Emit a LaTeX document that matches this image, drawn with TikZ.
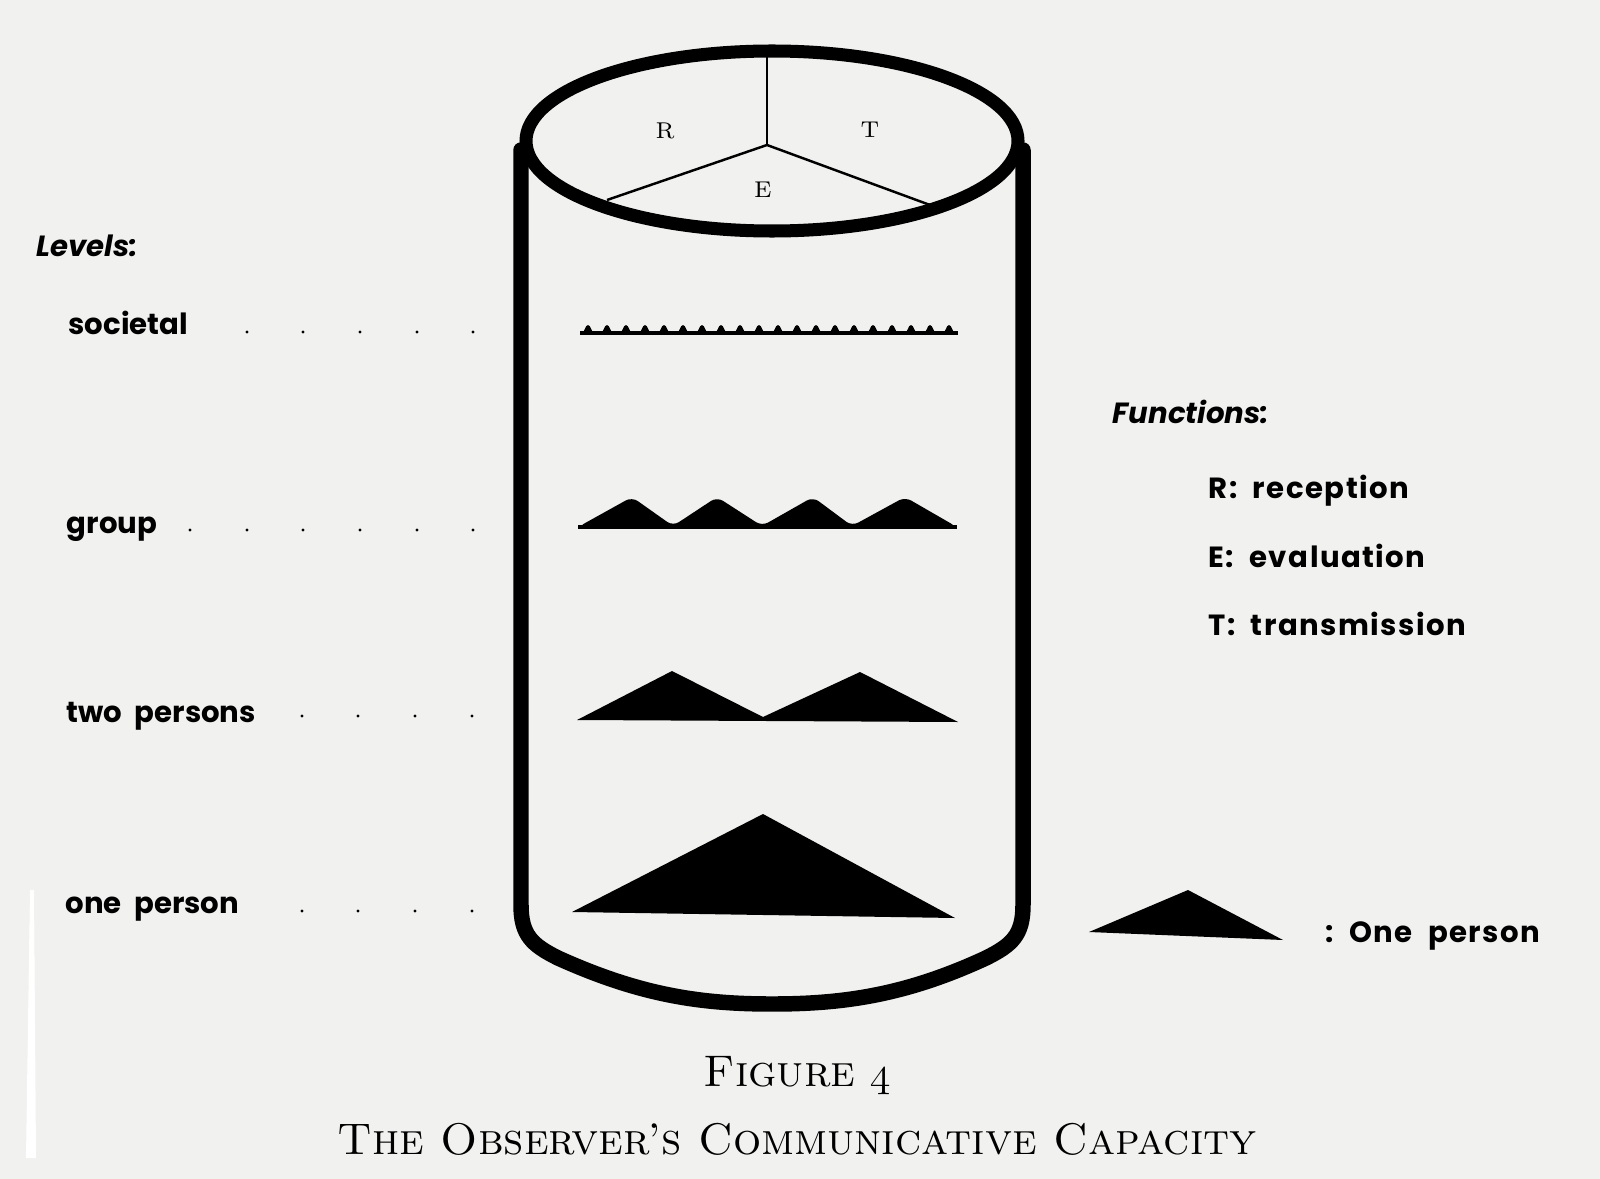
\documentclass[tikz,border=0pt]{standalone}
\usepackage{fontspec}
\newfontfamily\labelfont{Poppins}
\definecolor{paper}{RGB}{241,241,239}

\begin{document}
\begin{tikzpicture}[x=0.01cm,y=-0.01cm,
	wall/.style={line width=4.4pt,line join=round,line cap=round},
	rim/.style={line width=3.7pt},
	lbl/.style={anchor=base west,inner sep=0pt,font=\labelfont\bfseries\fontsize{8.3}{10}\selectfont},
	fnlbl/.style={lbl,font=\labelfont\bfseries\fontsize{8.3}{10}\selectfont\addfontfeature{LetterSpace=5}},
	head/.style={lbl,font=\labelfont\bfseries\itshape\fontsize{8.3}{10}\selectfont},
	sector/.style={inner sep=0pt,font=\fontsize{6.5}{8}\selectfont},
	caption/.style={anchor=base,inner sep=0pt,font=\fontsize{12.6}{15}\selectfont}]

	% paper
	\fill[paper] (0,0) rectangle (1600,1179);
	\useasboundingbox (0,0) rectangle (1600,1179);
	\fill[white] (30,890) -- (34,890) -- (36,1158) -- (26,1158) -- cycle;

	% cylinder
	\draw[wall] (521,150) -- (521,905) .. controls (521,935) and (532,945) .. (558,958) .. controls (640,995) and (700,1004) .. (772,1004) .. controls (844,1004) and (906,995) .. (986,958) .. controls (1012,945) and (1023,935) .. (1023,905) -- (1023,150);
	\coordinate (hub) at (767,145);
	\draw[line width=0.7pt] (hub) -- (767,51);
	\draw[line width=0.7pt] (hub) -- (607,200);
	\draw[line width=0.7pt] (hub) -- (930,205);
	\draw[rim] (772,141) ellipse [x radius=246, y radius=90];
	\node[sector] (R) at (665,131) {R};
	\node[sector] (T) at (870,130) {T};
	\node[sector] (E) at (763,190) {E};

	% societal
	\draw[line width=0.9pt] (580,333) -- (958,333);
	\foreach \i [evaluate=\i as \x using 588+19*\i] in {0,...,19}
		\fill ({\x-7},333) .. controls ({\x-3},333) and ({\x-3},325) .. (\x,325) .. controls ({\x+3},325) and ({\x+3},333) .. ({\x+7},333) -- cycle;

	% group
	\fill[rounded corners=2pt] (578,527) -- (632,497) -- (673,526) -- (717,497) -- (762,526) -- (813,497) -- (852,526) -- (905,497) -- (957,527) -- cycle;
	\draw[line width=0.9pt] (578,527) -- (957,527);

	% two persons
	\fill (577,720) -- (672,671) -- (763,717) -- (860,672) -- (958,722) -- cycle;

	% one person
	\fill (572,912) -- (763,814) -- (955,918) -- cycle;

	% levels
	\node[head] (levels) at (36,257) {Levels:};
	\node[lbl] (societal) at (68,334) {societal};
	\node[lbl] (group) at (66,533) {group};
	\node[lbl] (two) at (66,722) {two~~persons};
	\node[lbl] (one) at (65,913) {one~~person};
	\foreach \x in {247,303,360,417,473}
		\fill (\x,332) circle (1.7);
	\foreach \x in {190,247,303,360,417,473}
		\fill (\x,530) circle (1.7);
	\foreach \x in {302,358,415,472}
		\fill (\x,716) circle (1.7);
	\foreach \x in {302,358,415,472}
		\fill (\x,911) circle (1.7);

	% functions
	\node[head] (functions) at (1112,423) {Functions:};
	\node[fnlbl] (rec) at (1208,498) {R:~~reception};
	\node[fnlbl] (eva) at (1208,567) {E:~~evaluation};
	\node[fnlbl] (tra) at (1208,635) {T:~~transmission};

	% legend
	\fill (1089,932) -- (1188,890) -- (1283,940) -- cycle;
	\node[fnlbl] (oneperson) at (1325,942) {:~~One~~person};

	% caption
	\node[caption] (fig) at (797,1086) {\textsc{Figure} $\mathnormal{4}$};
	\node[caption] (title) at (797,1154) {\textsc{The~Observer’s~Communicative~Capacity}};

\end{tikzpicture}
\end{document}
